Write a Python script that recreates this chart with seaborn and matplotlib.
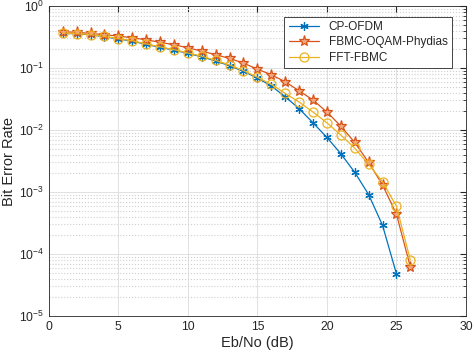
import numpy as np
import pandas as pd
import matplotlib
matplotlib.use("Agg")
import matplotlib.pyplot as plt
import seaborn as sns

ebno_cp = list(range(1, 26))
ebno_fb = list(range(1, 27))

ber_cp_ofdm = [0.363, 0.357, 0.344, 0.320, 0.294, 0.272, 0.241, 0.216, 0.195, 0.172,
               0.152, 0.130, 0.109, 0.0885, 0.069, 0.0513, 0.0345, 0.0221, 0.0131, 0.0076,
               0.00415, 0.00208, 9.1e-4, 2.9e-4, 4.8e-5]
ber_phydias = [0.385, 0.377, 0.363, 0.344, 0.328, 0.308, 0.286, 0.260, 0.238, 0.212,
               0.188, 0.164, 0.143, 0.120, 0.096, 0.078, 0.060, 0.043, 0.0305, 0.0195,
               0.0116, 0.0063, 0.0030, 0.0013, 4.4e-4, 6.2e-5]
ber_fft_fbmc = [0.368, 0.360, 0.347, 0.324, 0.298, 0.276, 0.245, 0.220, 0.198, 0.175,
                0.155, 0.133, 0.112, 0.091, 0.071, 0.0546, 0.039, 0.0283, 0.0195, 0.0131,
                0.0083, 0.0051, 0.0028, 0.00147, 5.9e-4, 8.0e-5]

sns.set_style("white")
plt.rcParams['font.family'] = ['Liberation Sans', 'DejaVu Sans']
plt.rcParams['mathtext.fontset'] = 'custom'
plt.rcParams['mathtext.rm'] = 'Liberation Sans'

fig = plt.figure(figsize=(4.74, 3.57), dpi=100)
ax = fig.add_axes([0.103, 0.115, 0.880, 0.868])

# (name, x, y, colour, marker, size, face)
series = [
    ("CP-OFDM", ebno_cp, ber_cp_ofdm, "#0072BD", (6, 2, 0), 6, "#0072BD"),
    ("FBMC-OQAM-Phydias", ebno_fb, ber_phydias, "#D95319", "*", 8, "#F0A880"),
    ("FFT-FBMC", ebno_fb, ber_fft_fbmc, "#EDB120", "o", 6.5, "none"),
]
for name, x, y, c, m, ms, fc in series:
    sns.lineplot(x=x, y=y, ax=ax, color=c, marker=m, markersize=ms, linewidth=0.9,
                 markerfacecolor=fc, markeredgecolor=c,
                 markeredgewidth=0.9, label=name)

ax.set_yscale("log")
ax.set_xlim(0, 30)
ax.set_ylim(1e-5, 1)
ax.set_xticks(range(0, 31, 5))
ax.grid(True, which="major", color="#dcdcdc", linewidth=0.6)
ax.grid(True, which="minor", axis="y", color="#cfcfcf", linestyle=":", linewidth=0.8)
ax.tick_params(which="both", direction="in", top=True, right=True, labelsize=8.8)
ax.tick_params(which="major", length=4)
ax.tick_params(which="minor", length=2)
for s in ax.spines.values():
    s.set_color("#262626")
    s.set_linewidth(0.6)
ax.set_xlabel("Eb/No (dB)", fontsize=10.5, labelpad=2)
ax.set_ylabel("Bit Error Rate", fontsize=10.5, labelpad=2)
leg = ax.legend(loc="upper right", bbox_to_anchor=(0.98, 0.985), fontsize=8.5,
                frameon=True, fancybox=False, edgecolor="#262626", framealpha=1,
                borderpad=0.35, labelspacing=0.3, handlelength=2.6)
leg.get_frame().set_linewidth(0.6)

fig.savefig("out.png", dpi=100)
